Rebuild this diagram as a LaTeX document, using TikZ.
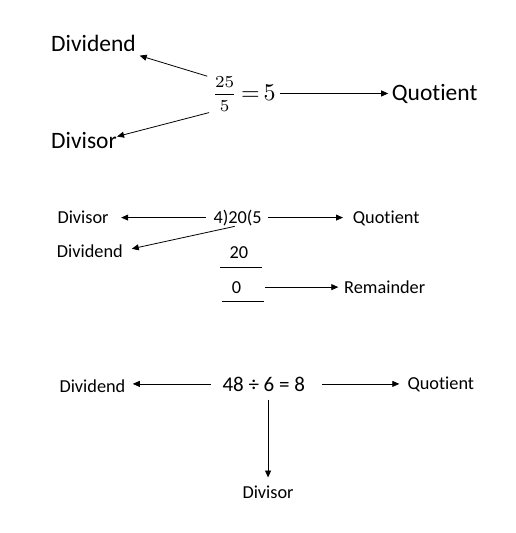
\documentclass[tikz,border=0pt]{standalone}
\usepackage{amsmath}
\usepackage{graphicx}
\usepackage[no-math]{fontspec}
\setmainfont{Carlito}[Ligatures=NoCommon]
\usetikzlibrary{arrows.meta}
\tikzset{>={Triangle[length=7pt,width=6pt]}}

\begin{document}
\begin{tikzpicture}[x=1pt,y=-1pt,
        lbl/.style={inner sep=0pt,anchor=base west,font=\fontsize{18.3}{22}\selectfont},
        biglbl/.style={inner sep=0pt,anchor=base west,font=\fontsize{23.5}{28}\selectfont},
        arr/.style={->,line width=0.8pt}]
        \useasboundingbox (0,0) rectangle (516,533);

        \node[biglbl] at (51,51)   (dvd1) {Dividend};
        \node[biglbl] at (51,148)   (dvs1) {Divisor};
        \node[biglbl] at (391.7,100)   (quo1) {Quotient};
        \node[inner sep=0pt,anchor=base west] at (212,100)   (frac)
            {\scalebox{2.4}{$\tfrac{\raisebox{1.2pt}{$\scriptstyle 25$}}{\raisebox{-1.4pt}{$\scriptstyle 5$}}\mskip-2mu=\mskip-2mu 5$}};

        \draw[arr,shorten <=5pt,shorten >=1pt] ([yshift=-1pt]frac.north west) -- ([xshift=2.7pt,yshift=-4pt]dvd1.south east);
        \draw[arr,shorten <=3pt] (frac.south west) -- ([yshift=3.5pt]dvs1.east);
        \draw[arr,shorten <=4pt,shorten >=3.5pt] (frac.east |- quo1.west) -- (quo1.west);

        \node[lbl] at (57.3,223)   (dvs2) {Divisor};
        \node[lbl] at (213.3,223)   (lng) {4)20(5};
        \node[lbl] at (352.7,223)   (quo2) {Quotient};
        \node[lbl] at (56.7,257)   (dvd2) {Dividend};
        \node[lbl] at (229.3,258)   (sub) {20};
        \node[lbl] at (231.7,293)   (rem) {0};
        \node[lbl] at (344,293)   (remt) {Remainder};

        \draw[line width=0.8pt] (220,267.3) -- (261.7,267.3);
        \draw[line width=0.8pt] (221.7,301) -- (264.3,301);

        \draw[arr,shorten <=7.6pt,shorten >=12.4pt] (lng.west) -- (lng.west -| dvs2.east);
        \draw[arr,shorten <=5.8pt,shorten >=9.7pt] (lng.east) -- (lng.east -| quo2.west);
        \draw[arr,shorten <=3pt,shorten >=9pt] (lng.south) -- (dvd2.east);
        \draw[arr,shorten <=24pt,shorten >=5.7pt] (rem.east) -- (rem.east -| remt.west);

        \node[lbl] at (59.3,392)   (dvd3) {Dividend};
        \node[inner sep=0pt,anchor=base west,font=\fontsize{21}{25}\selectfont] at (222.3,391)   (eq) {48 ÷ 6 = 8};
        \node[lbl] at (407.3,389)   (quo3) {Quotient};
        \node[lbl] at (242.3,498)   (dvs3) {Divisor};

        \draw[arr,shorten <=11.6pt,shorten >=7.2pt] (eq.west) -- (eq.west -| dvd3.east);
        \draw[arr,shorten <=17pt,shorten >=8pt] (quo3.west -| eq.east) -- (quo3.west);
        \draw[arr,shorten <=8.3pt,shorten >=7.7pt] (eq.south -| dvs3.north) -- (dvs3.north);

\end{tikzpicture}
\end{document}
